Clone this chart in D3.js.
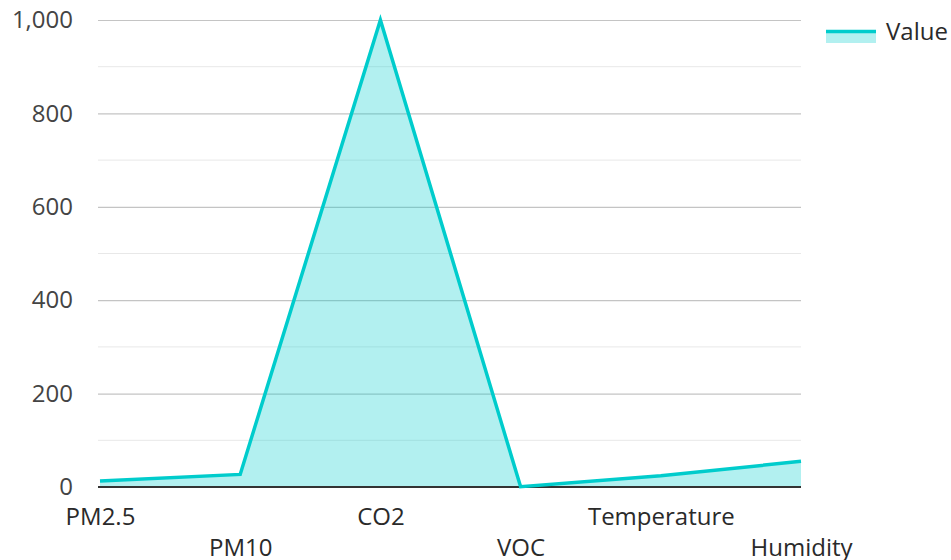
<!doctype html>
<html>
  <head>
    <script src="https://cdnjs.cloudflare.com/ajax/libs/d3/7.8.5/d3.min.js"></script>
  <style>
    body { margin: 0; background: #fff; }
    svg { font-family: "Open Sans", sans-serif; }
    path.domain { stroke: none; }
  </style>
  </head>
  <body>
    <svg id="chart" width="951" height="560"></svg>
    <script>
      var categories = ["PM2.5", "PM10", "CO2", "VOC", "Temperature", "Humidity"];
      var values = [13, 27, 1000, 0.5, 24, 55];
      var majorTicks = [0, 200, 400, 600, 800, 1000];
      var minorTicks = [100, 300, 500, 700, 900];
      var seriesName = "Value";

      var data = categories.map((c, i) => ({ cat: c, value: values[i] }));
      var svg = d3.select("#chart");
      var color = "#00cccc";

      var xScale = d3.scalePoint().domain(categories).range([100, 801]);
      var yScale = d3.scaleLinear().domain([0, 1000]).range([487, 20]);

      // minor grid
      svg.append("g").selectAll("line")
        .data(minorTicks)
        .enter().append("line")
          .attr("x1", 98).attr("x2", 801)
          .attr("y1", d => yScale(d)).attr("y2", d => yScale(d))
          .attr("stroke", "#e8e8e8").attr("stroke-width", 1);

      // major grid + labels
      var yAxis = d3.axisLeft(yScale)
        .tickValues(majorTicks)
        .tickSize(-703)
        .tickPadding(25)
        .tickFormat(d3.format(","));
      var yG = svg.append("g").attr("transform", "translate(98,0)").call(yAxis);
      yG.selectAll(".tick line").attr("stroke", "#c4c4c4").attr("stroke-width", 1.2);
      yG.selectAll(".tick text")
        .attr("font-size", 24).attr("fill", "#444")
        .attr("font-family", "Open Sans, sans-serif");

      var area = d3.area()
        .x(d => xScale(d.cat))
        .y0(yScale(0))
        .y1(d => yScale(d.value));
      var line = d3.line()
        .x(d => xScale(d.cat))
        .y(d => yScale(d.value));

      svg.append("path")
        .attr("d", area(data))
        .attr("fill", color).attr("fill-opacity", 0.3);

      // baseline
      svg.append("line")
        .attr("x1", 98).attr("x2", 801)
        .attr("y1", yScale(0)).attr("y2", yScale(0))
        .attr("stroke", "#333").attr("stroke-width", 2);

      svg.append("path")
        .attr("d", line(data))
        .attr("fill", "none")
        .attr("stroke", color)
        .attr("stroke-width", 3.5)
        .attr("stroke-linejoin", "miter");

      // x labels, staggered in two rows
      var xAxis = d3.axisBottom(xScale).tickSize(0).tickPadding(0);
      var xG = svg.append("g").attr("transform", "translate(0," + yScale(0) + ")").call(xAxis);
      xG.selectAll(".tick text")
        .attr("font-size", 24).attr("fill", "#2a2a2a")
        .attr("font-family", "Open Sans, sans-serif")
        .attr("dy", null)
        .attr("y", (d, i) => i % 2 === 0 ? 38 : 69);

      // legend
      var lg = svg.append("g");
      lg.append("rect")
        .attr("x", 826).attr("y", 31).attr("width", 50).attr("height", 12)
        .attr("fill", color).attr("fill-opacity", 0.3);
      lg.append("line")
        .attr("x1", 826).attr("x2", 876).attr("y1", 31.5).attr("y2", 31.5)
        .attr("stroke", color).attr("stroke-width", 3.5);
      lg.append("text")
        .attr("x", 886).attr("y", 40)
        .attr("font-size", 24).attr("fill", "#2a2a2a")
        .text(seriesName);
    </script>
  </body>
</html>
